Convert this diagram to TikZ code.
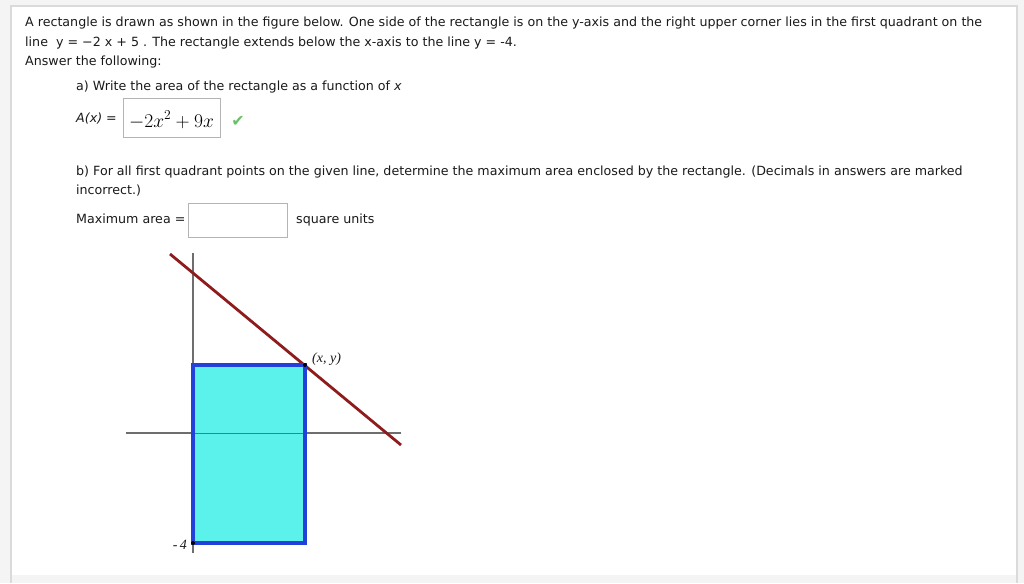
\documentclass[tikz,border=0pt]{standalone}
\usepackage{fontspec}
\setmainfont{DejaVu Sans}
\newfontfamily\tnr{Liberation Serif}
\definecolor{pagebg}{HTML}{F4F4F4}
\definecolor{frameline}{HTML}{DADADA}
\definecolor{boxline}{HTML}{B4B4B4}
\definecolor{linered}{HTML}{8E1C1C}
\definecolor{axisgrey}{HTML}{6E6E6E}
\definecolor{rectfill}{HTML}{5CF2EC}
\definecolor{rectline}{HTML}{2141DA}
\definecolor{checkgreen}{HTML}{6CBF6C}
\definecolor{txtcol}{HTML}{1A1A1A}
\begin{document}
\begin{tikzpicture}[x=1pt,y=-1pt,
  txt/.style={anchor=base west, inner sep=0pt, text=txtcol, font=\fontsize{12.65}{15}\selectfont},
  ansbox/.style={draw=boxline, line width=1pt, anchor=north west, inner sep=0pt},
  axis/.style={draw=axisgrey, line width=1.4pt},
  figlbl/.style={inner sep=0pt, font=\tnr\itshape\fontsize{14}{16}\selectfont, text=txtcol},
  dot/.style={circle, fill=black, inner sep=0pt, minimum size=4pt}]
\useasboundingbox (0,0) rectangle (1024,583);
\fill[pagebg] (0,0) rectangle (1024,583);
\fill[white] (11,6) rectangle (1017,575);
\draw[frameline, line width=1.2pt] (11,583) -- (11,6) -- (1017,6) -- (1017,583);

\node[txt] (l1) at (25,27) {A rectangle is drawn as shown in the figure below. One side of the rectangle is on the y-axis and the right upper corner lies in the first quadrant on the};
\node[txt] (l2) at (25,46.5) {line \ y = −2 x + 5 . The rectangle extends below the x-axis to the line y = -4.};
\node[txt] (l3) at (25,65.5) {Answer the following:};
\node[txt] (qa) at (76,90.5) {a) Write the area of the rectangle as a function of \textit{x}};
\node[txt] (ax) at (76,122) {\textit{A(x)} =};
\node[ansbox, minimum width=97pt, minimum height=39pt] (boxa) at (123,98) {};
\node[anchor=base, inner sep=0pt, font=\fontsize{17.28}{20}\selectfont] (ansa) at (171.5,127) {\scalebox{1.13}{$-2x^2+9x$}};
\node[inner sep=0pt, text=checkgreen, font=\fontsize{16}{18}\selectfont] (chk) at (238,121) {✔};
\node[txt] (qb) at (76,175.5) {b) For all first quadrant points on the given line, determine the maximum area enclosed by the rectangle. (Decimals in answers are marked};
\node[txt] (qb2) at (76,194.5) {incorrect.)};
\node[txt] (ma) at (76,223.5) {Maximum area =};
\node[ansbox, minimum width=99pt, minimum height=34pt] (boxb) at (188,203) {};
\node[txt] (su) at (296,223.5) {square units};

% figure
\coordinate (xl) at (126,433);
\coordinate (xr) at (401,433);
\coordinate (yt) at (193,253);
\coordinate (yb) at (193,553);
\coordinate (ls) at (170,254);
\coordinate (le) at (401,445);
\coordinate (rtl) at (193,365);
\coordinate (rbr) at (305,543);
\draw[axis] (xl) -- (xr);
\draw[axis] (yt) -- (yb);
\fill[rectfill] (rtl) rectangle (rbr);
\draw[axis, line width=1pt] (xl) -- (xr);
\draw[linered, line width=2.8pt] (ls) -- (le);
\draw[rectline, line width=3.2pt] (rtl) rectangle (rbr);
\node[dot] (pxy) at (305,365) {};
\node[dot] (pm4) at (193,543) {};
\node[figlbl, anchor=west] (lxy) at (312,359) {(x, y)};
\node[figlbl, anchor=east] (lm4) at (187,545) {-\,4};
\end{tikzpicture}
\end{document}
